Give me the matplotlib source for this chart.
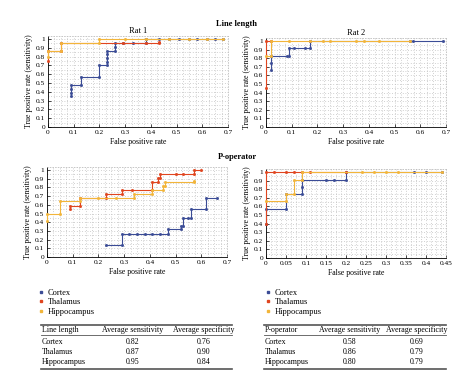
import matplotlib
matplotlib.use("Agg")
import matplotlib.pyplot as plt
from matplotlib.lines import Line2D
from matplotlib.ticker import MultipleLocator

plt.rcParams['font.family'] = ['Liberation Serif', 'DejaVu Serif']

# ---------------- data ----------------
series_names = ["Cortex", "Thalamus", "Hippocampus"]
colors = ["#3b4c96", "#e0451f", "#f2b53a"]

# Line length, Rat 1 (FPR, TPR) ROC points
ll_r1_cortex_x = [0.09, 0.09, 0.09, 0.09, 0.13, 0.13, 0.20, 0.20, 0.23, 0.23, 0.23, 0.23, 0.23, 0.26, 0.26, 0.26,
                  0.29, 0.33, 0.38, 0.38, 0.43, 0.47, 0.51, 0.55, 0.58, 0.62, 0.65, 0.68]
ll_r1_cortex_y = [0.35, 0.39, 0.43, 0.48, 0.48, 0.57, 0.57, 0.70, 0.70, 0.74, 0.78, 0.83, 0.87, 0.87, 0.91, 0.95,
                  0.95, 0.95, 0.95, 1.00, 1.00, 1.00, 1.00, 1.00, 1.00, 1.00, 1.00, 1.00]
ll_r1_thal_x = [0.00, 0.00, 0.05, 0.05, 0.29, 0.38, 0.43, 0.43]
ll_r1_thal_y = [0.75, 0.86, 0.86, 0.95, 0.95, 0.95, 0.95, 0.97]
ll_r1_hip_x = [0.00, 0.00, 0.05, 0.05, 0.20, 0.20, 0.30, 0.38, 0.47, 0.55, 0.62, 0.68]
ll_r1_hip_y = [0.80, 0.86, 0.86, 0.95, 0.95, 1.00, 1.00, 1.00, 1.00, 1.00, 1.00, 1.00]

# Line length, Rat 2
ll_r2_cortex_x = [0.02, 0.02, 0.02, 0.08, 0.09, 0.09, 0.11, 0.15, 0.17, 0.17, 0.56, 0.57, 0.69]
ll_r2_cortex_y = [0.66, 0.75, 0.83, 0.83, 0.83, 0.92, 0.92, 0.92, 0.92, 1.00, 1.00, 1.00, 1.00]
ll_r2_thal_x = [0.00, 0.00, 0.02]
ll_r2_thal_y = [0.45, 1.00, 1.00]
ll_r2_hip_x = [0.00, 0.02, 0.02, 0.09, 0.17, 0.22, 0.25, 0.35, 0.38, 0.44, 0.56]
ll_r2_hip_y = [0.83, 0.83, 1.00, 1.00, 1.00, 1.00, 1.00, 1.00, 1.00, 1.00, 1.00]

# P-operator, Rat 1
po_r1_cortex_x = [0.23, 0.29, 0.29, 0.32, 0.35, 0.38, 0.41, 0.44, 0.47, 0.47, 0.52, 0.52, 0.53, 0.53, 0.55,
                  0.56, 0.56, 0.62, 0.62, 0.66]
po_r1_cortex_y = [0.14, 0.14, 0.27, 0.27, 0.27, 0.27, 0.27, 0.27, 0.27, 0.32, 0.32, 0.36, 0.36, 0.45, 0.45,
                  0.45, 0.55, 0.55, 0.68, 0.68]
po_r1_thal_x = [0.09, 0.09, 0.13, 0.13, 0.23, 0.23, 0.29, 0.29, 0.33, 0.41, 0.41, 0.43, 0.43, 0.44, 0.44,
                0.50, 0.53, 0.57, 0.57, 0.60]
po_r1_thal_y = [0.55, 0.59, 0.59, 0.68, 0.68, 0.73, 0.73, 0.77, 0.77, 0.77, 0.86, 0.86, 0.91, 0.91, 0.95,
                0.95, 0.95, 0.95, 1.00, 1.00]
po_r1_hip_x = [0.00, 0.00, 0.05, 0.05, 0.13, 0.13, 0.20, 0.27, 0.34, 0.34, 0.41, 0.41, 0.45, 0.45, 0.46, 0.46,
               0.57, 0.57]
po_r1_hip_y = [0.41, 0.50, 0.50, 0.64, 0.64, 0.68, 0.68, 0.68, 0.68, 0.73, 0.73, 0.77, 0.77, 0.82, 0.82, 0.86,
               0.86, 0.87]

# P-operator, Rat 2
po_r2_cortex_x = [0.00, 0.00, 0.05, 0.05, 0.09, 0.09, 0.09, 0.15, 0.17, 0.20, 0.20, 0.37, 0.40, 0.44]
po_r2_cortex_y = [0.40, 0.57, 0.57, 0.75, 0.75, 0.83, 0.91, 0.91, 0.91, 0.91, 1.00, 1.00, 1.00, 1.00]
po_r2_thal_x = [0.00, 0.00, 0.02, 0.05, 0.07, 0.09, 0.11, 0.20]
po_r2_thal_y = [0.40, 1.00, 1.00, 1.00, 1.00, 1.00, 1.00, 1.00]
po_r2_hip_x = [0.00, 0.05, 0.05, 0.07, 0.07, 0.09, 0.09, 0.24, 0.27, 0.30, 0.33, 0.44]
po_r2_hip_y = [0.66, 0.66, 0.75, 0.75, 0.91, 0.91, 1.00, 1.00, 1.00, 1.00, 1.00, 1.00]

yticks = [0, 0.1, 0.2, 0.3, 0.4, 0.5, 0.6, 0.7, 0.8, 0.9, 1]
ytick_labels = ["0", "0.1", "0.2", "0.3", "0.4", "0.5", "0.6", "0.7", "0.8", "0.9", "1"]
xticks_07 = [0, 0.1, 0.2, 0.3, 0.4, 0.5, 0.6, 0.7]
xticks_045 = [0, 0.05, 0.1, 0.15, 0.2, 0.25, 0.3, 0.35, 0.4, 0.45]

table_cols_ll = ["Line length", "Average sensitivity", "Average specificity"]
table_cols_po = ["P-operator", "Average sensitivity", "Average specificity"]
ll_sens = ["0.82", "0.87", "0.95"]
ll_spec = ["0.76", "0.90", "0.84"]
po_sens = ["0.58", "0.86", "0.80"]
po_spec = ["0.69", "0.79", "0.79"]

# ---------------- figure ----------------
W, H = 474, 392
fig = plt.figure(figsize=(W / 100, H / 100), dpi=100)

def rect(l, r, t, b):
    return [l / W, 1 - b / H, (r - l) / W, (b - t) / H]

def setup(ax, xmax, xticks, xstep, title):
    ax.set_xlim(0, xmax)
    ax.set_ylim(0, 1.035)
    ax.set_xticks(xticks)
    ax.set_xticklabels([("%g" % v) for v in xticks])
    ax.set_yticks(yticks)
    ax.set_yticklabels(ytick_labels)
    ax.xaxis.set_minor_locator(MultipleLocator(xstep))
    ax.yaxis.set_minor_locator(MultipleLocator(0.05))
    ax.grid(True, which='both', linestyle=(0, (1, 2.5)), color='#b5b5b5', linewidth=0.55)
    ax.tick_params(which='both', direction='in', labelsize=5.3, length=2, width=0.5, pad=2)
    ax.tick_params(which='minor', length=0)
    for s in ['top', 'right']:
        ax.spines[s].set_linestyle((0, (1, 2.5)))
        ax.spines[s].set_color('#b5b5b5')
        ax.spines[s].set_linewidth(0.55)
    for s in ['left', 'bottom']:
        ax.spines[s].set_linewidth(0.6)
    ax.set_xlabel("False positive rate", fontsize=5.6, labelpad=2)
    ax.set_ylabel("True positive rate (sensitivity)", fontsize=5.6, labelpad=2)
    if title:
        ax.set_title(title, fontsize=6, pad=2)

def draw(ax, data):
    for (x, y), c in zip(data, colors):
        ax.plot(x, y, color=c, linewidth=0.8, marker='s', markersize=1.0, clip_on=False, zorder=3)

ax1 = fig.add_axes(rect(48, 228, 36, 127))
setup(ax1, 0.7, xticks_07, 0.025, "Rat 1")
draw(ax1, [(ll_r1_cortex_x, ll_r1_cortex_y), (ll_r1_thal_x, ll_r1_thal_y), (ll_r1_hip_x, ll_r1_hip_y)])

ax2 = fig.add_axes(rect(266, 446, 38, 127))
setup(ax2, 0.7, xticks_07, 0.025, "Rat 2")
draw(ax2, [(ll_r2_cortex_x, ll_r2_cortex_y), (ll_r2_thal_x, ll_r2_thal_y), (ll_r2_hip_x, ll_r2_hip_y)])

ax3 = fig.add_axes(rect(47, 227, 167, 257))
setup(ax3, 0.7, xticks_07, 0.025, None)
draw(ax3, [(po_r1_cortex_x, po_r1_cortex_y), (po_r1_thal_x, po_r1_thal_y), (po_r1_hip_x, po_r1_hip_y)])

ax4 = fig.add_axes(rect(266, 446, 169, 258))
setup(ax4, 0.45, xticks_045, 0.0125, None)
draw(ax4, [(po_r2_cortex_x, po_r2_cortex_y), (po_r2_thal_x, po_r2_thal_y), (po_r2_hip_x, po_r2_hip_y)])

fig.text(237 / W, 1 - 24 / H, "Line length", ha='center', va='center', fontsize=6, fontweight='bold')
fig.text(237 / W, 1 - 157 / H, "P-operator", ha='center', va='center', fontsize=6, fontweight='bold')

# legends
handles = [Line2D([], [], color=c, marker='s', markersize=1.5, linestyle='none') for c in colors]
for xl in (38 / W, 265 / W):
    fig.legend(handles, series_names, loc='upper left', bbox_to_anchor=(xl, 1 - 289 / H),
               frameon=False, fontsize=6, handlelength=0.6, handletextpad=0.6,
               labelspacing=0.15, borderpad=0, borderaxespad=0)

# tables
def table(x0, x1, cols, sens, spec, c1, c2):
    tops = [325, 335, 369]
    lws = [1.2, 0.6, 1.2]
    for yy, lw in zip(tops, lws):
        fig.add_artist(Line2D([x0 / W, x1 / W], [1 - yy / H, 1 - yy / H], color='#555555', linewidth=lw))
    ry = [330.5, 341.5, 352, 362.5]
    fs = 5.7
    fig.text((x0 + 1) / W, 1 - ry[0] / H, cols[0], fontsize=fs, va='center', ha='left')
    fig.text(c1 / W, 1 - ry[0] / H, cols[1], fontsize=fs, va='center', ha='center')
    fig.text(c2 / W, 1 - ry[0] / H, cols[2], fontsize=fs, va='center', ha='center')
    for i, name in enumerate(series_names):
        fig.text((x0 + 1) / W, 1 - ry[i + 1] / H, name, fontsize=fs, va='center', ha='left')
        fig.text(c1 / W, 1 - ry[i + 1] / H, sens[i], fontsize=fs, va='center', ha='center')
        fig.text(c2 / W, 1 - ry[i + 1] / H, spec[i], fontsize=fs, va='center', ha='center')

table(41, 232, table_cols_ll, ll_sens, ll_spec, 133, 204)
table(264, 446, table_cols_po, po_sens, po_spec, 350, 417)

fig.savefig("out.png", dpi=100)
